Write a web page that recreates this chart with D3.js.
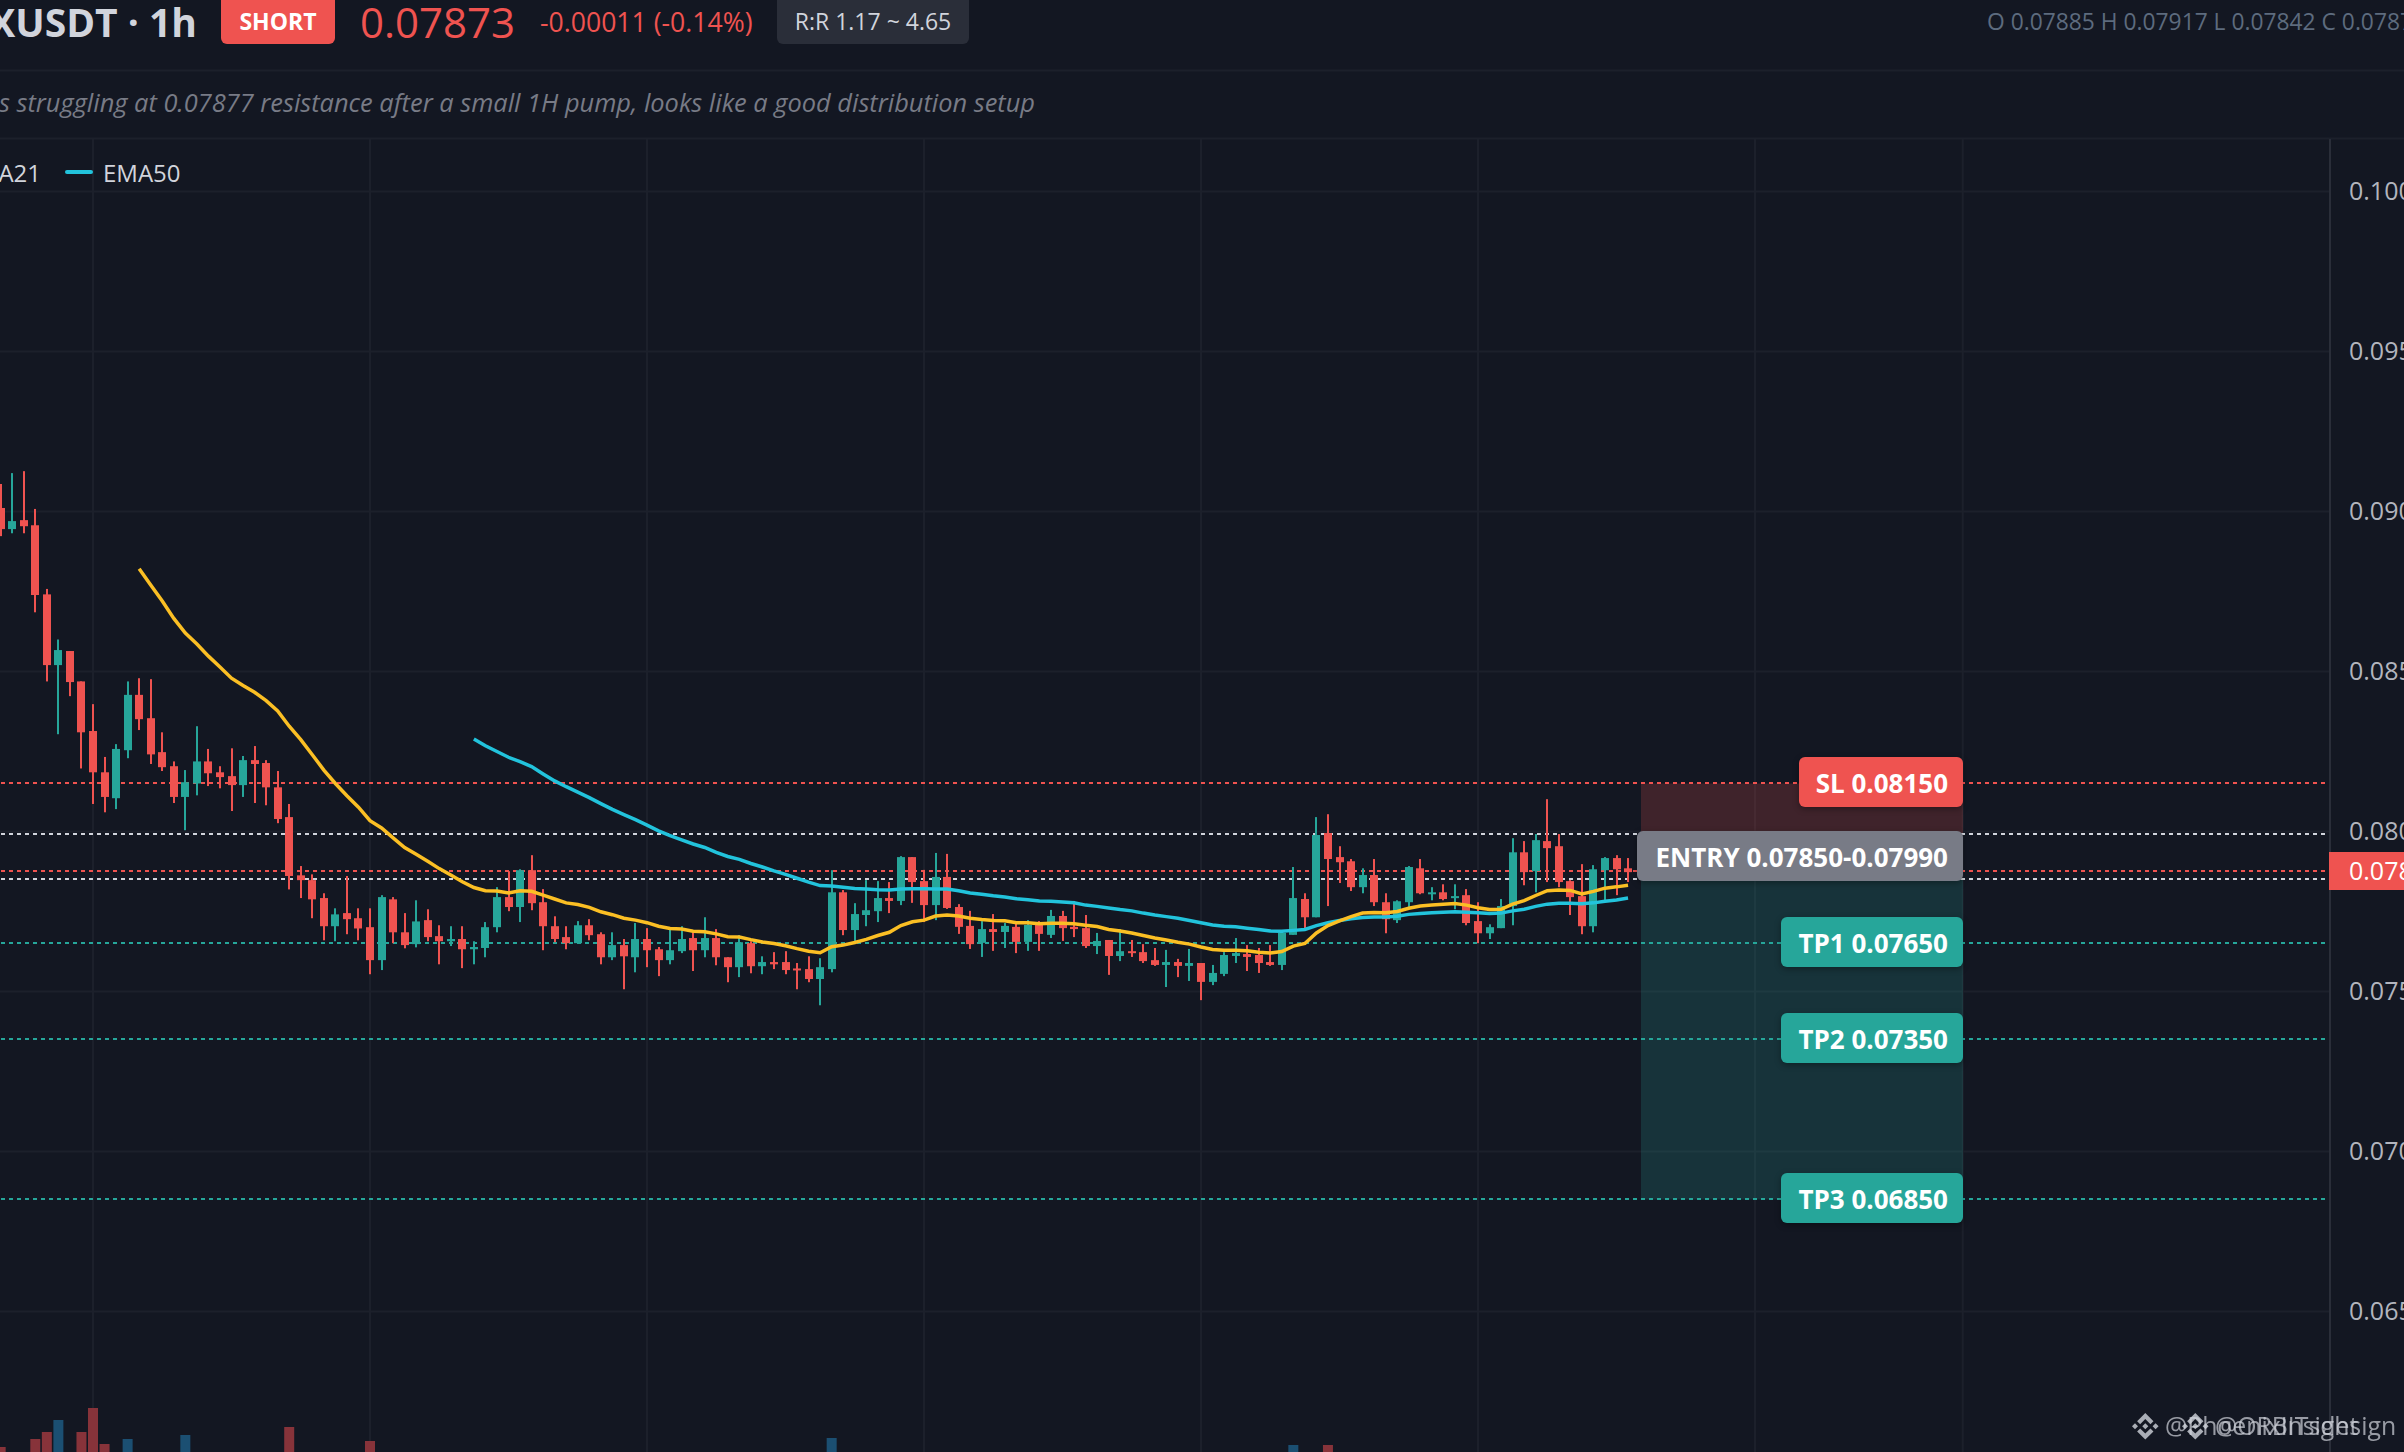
<!DOCTYPE html>
<html>
<head>
<meta charset="utf-8">
<script src="https://cdn.jsdelivr.net/npm/d3@7"></script>
<style>
  html, body { margin: 0; padding: 0; background: #131722; overflow: hidden; }
  text { font-family: "Open Sans", sans-serif; }
</style>
</head>
<body>
<div id="chart-area"></div>
<script>
// prices are in units of 0.00001, bars are hourly
const opens = [
  9011,8945,8973,8957,8741,8520,8564,8469,8314,8185,
  8104,8254,8427,8354,8248,8204,8108,8150,8219,8185,
  8173,8145,8223,8214,8138,8045,7863,7848,7792,7704,
  7745,7729,7701,7598,7788,7685,7648,7723,7673,7657,
  7664,7632,7636,7701,7795,7764,7879,7779,7704,7670,
  7651,7707,7679,7607,7645,7607,7664,7632,7598,7626,
  7667,7629,7667,7607,7576,7651,7579,7592,7592,7572,
  7570,7539,7570,7810,7692,7739,7751,7792,7783,7920,
  7845,7770,7858,7764,7705,7652,7695,7686,7702,7655,
  7708,7677,7736,7702,7698,7642,7661,7611,7626,7623,
  7598,7583,7592,7580,7589,7530,7555,7611,7617,7614,
  7592,7583,7677,7789,7732,7995,7920,7907,7826,7864,
  7779,7723,7779,7885,7807,7810,7792,7801,7720,7682,
  7698,7767,7935,7876,7970,7954,7845,7798,7704,7879,
  7917,7885
]
const highs = [
  9086,9120,9126,9008,8758,8600,8564,8469,8398,8233,
  8273,8469,8479,8476,8310,8219,8192,8329,8258,8204,
  8260,8236,8267,8223,8189,8086,7892,7866,7807,7760,
  7861,7760,7760,7801,7795,7745,7785,7757,7707,7704,
  7704,7657,7717,7826,7876,7882,7926,7820,7735,7704,
  7720,7726,7685,7685,7664,7714,7698,7639,7695,7704,
  7685,7732,7695,7607,7676,7657,7610,7623,7626,7589,
  7610,7604,7879,7817,7776,7848,7845,7842,7923,7920,
  7880,7933,7930,7773,7752,7720,7742,7714,7711,7723,
  7720,7755,7752,7783,7739,7683,7661,7695,7661,7648,
  7636,7630,7602,7633,7589,7583,7623,7667,7645,7636,
  7645,7686,7889,7807,8045,8054,7954,7914,7885,7914,
  7807,7785,7892,7914,7826,7835,7835,7820,7779,7710,
  7789,7979,7970,7992,8101,7992,7848,7898,7895,7920,
  7926,7917
]
const lows = [
  8923,8932,8932,8685,8469,8304,8423,8197,8086,8060,
  8070,8229,8317,8211,8189,8089,8004,8113,8142,8135,
  8064,8108,8089,8082,8026,7819,7792,7729,7660,7657,
  7679,7660,7554,7567,7651,7635,7638,7657,7585,7642,
  7573,7585,7607,7685,7751,7717,7754,7629,7654,7632,
  7651,7660,7585,7598,7507,7560,7576,7548,7585,7620,
  7564,7607,7582,7529,7545,7557,7554,7570,7554,7507,
  7529,7457,7560,7676,7654,7704,7717,7745,7770,7777,
  7717,7723,7758,7680,7633,7608,7627,7636,7620,7627,
  7627,7667,7658,7670,7636,7617,7552,7595,7608,7589,
  7580,7514,7545,7533,7473,7520,7548,7589,7564,7558,
  7580,7567,7677,7695,7732,7767,7839,7814,7807,7767,
  7682,7714,7764,7804,7785,7785,7757,7707,7651,7664,
  7698,7707,7832,7810,7842,7826,7739,7679,7685,7785,
  7801,7842
]
const closes = [
  8945,8970,8954,8739,8520,8567,8467,8310,8185,8108,
  8258,8427,8351,8241,8201,8108,8154,8219,8182,8170,
  8145,8223,8211,8138,8039,7861,7848,7788,7704,7741,
  7726,7697,7598,7795,7685,7645,7719,7670,7657,7664,
  7632,7639,7701,7795,7764,7879,7776,7704,7664,7651,
  7707,7676,7607,7645,7610,7664,7629,7598,7629,7664,
  7629,7667,7607,7576,7654,7579,7592,7585,7567,7566,
  7539,7576,7810,7692,7742,7754,7792,7783,7920,7842,
  7770,7858,7761,7702,7648,7695,7686,7705,7655,7708,
  7680,7736,7698,7695,7642,7658,7611,7626,7620,7595,
  7583,7592,7580,7589,7530,7558,7614,7620,7608,7589,
  7583,7683,7792,7732,7989,7914,7904,7826,7864,7779,
  7726,7782,7889,7807,7810,7789,7798,7714,7682,7701,
  7767,7935,7873,7973,7948,7842,7795,7704,7882,7917,
  7882,7873
]

const ema21Start = 12
const ema21 = [
  8821,8770,8720,8666,8620,8586,8548,8514,8479,8456,8435,8409,8377,8329,8287,8240,
  8192,8150,8112,8076,8034,8011,7980,7950,7929,7907,7884,7864,7843,7825,7815,7814,
  7808,7815,7813,7801,7789,7777,7772,7763,7749,7740,7729,7723,7715,7704,7697,7695,
  7688,7687,7680,7671,7670,7662,7655,7650,7643,7634,7626,7621,7640,7645,7653,7663,
  7675,7685,7706,7718,7723,7736,7739,7736,7729,7725,7722,7721,7715,7715,7712,7713,
  7713,7712,7707,7703,7694,7689,7683,7675,7667,7661,7654,7648,7639,7631,7629,7629,
  7627,7623,7620,7625,7642,7650,7683,7706,7721,7734,7745,7747,7746,7750,7760,7767,
  7770,7773,7775,7770,7762,7756,7757,7773,7784,7800,7815,7817,7816,7805,7813,7823,
  7827,7832
]
const ema50Start = 41
const ema50 = [
  8289,8268,8250,8232,8218,8203,8180,8158,8140,8123,8106,8087,8069,8053,8037,8020,
  8002,7987,7974,7961,7950,7935,7922,7913,7900,7889,7877,7866,7854,7842,7831,7830,
  7826,7822,7820,7818,7817,7820,7821,7821,7820,7820,7815,7808,7804,7799,7795,7790,
  7787,7783,7782,7780,7777,7770,7766,7761,7756,7752,7745,7739,7734,7729,7722,7715,
  7708,7704,7702,7698,7694,7689,7688,7691,7694,7706,7715,7722,7727,7731,7733,7733,
  7735,7741,7744,7746,7748,7749,7748,7746,7744,7745,7752,7757,7766,7773,7776,7776,
  7774,7777,7782,7786,7792
]

// only the bars tall enough to stick into the picture
const volumeBars = [0,3,4,5,7,8,9,11,16,25,32,72,112,115]
const volumes = [5,13,20,32,20,44,8,13,17,25,11,14,7,7]

const priceTicks = [10000,9500,9000,8500,8000,7500,7000,6500]
const gridBars = [8,32,56,80,104,128,152,170]

const lastPrice = 7873
const levelNames = ["SL 0.08150","TP1 0.07650","TP2 0.07350","TP3 0.06850"]
const levelPrices = [8150,7650,7350,6850]
const entryName = "ENTRY 0.07850-0.07990"
const entryPrices = [7990,7850]

const WIDTH = 2404
const HEIGHT = 1452
const PLOT_TOP = 139
const AXIS_X = 2330
const RED = "#ef5350"
const GREEN = "#26a69a"
const GRID = "#1c202b"

const svg = d3.select("#chart-area").append("svg")
  .attr("width", WIDTH)
  .attr("height", HEIGHT)
  .style("display", "block")

const x = d3.scaleLinear().domain([8, 32]).range([93, 370])
const y = d3.scaleLinear().domain([10000, 6500]).range([191.5, 1311.5])
const vol = d3.scaleLinear().domain([0, 44]).range([HEIGHT, 1408])

// header rules
svg.selectAll(".rule")
  .data([70.5, 138.5])
  .enter().append("line")
  .attr("x1", 0).attr("x2", WIDTH)
  .attr("y1", d => d).attr("y2", d => d)
  .attr("stroke", GRID).attr("stroke-width", 2)

// grid
svg.append("g").selectAll("line")
  .data(priceTicks)
  .enter().append("line")
  .attr("x1", 0).attr("x2", AXIS_X)
  .attr("y1", d => y(d)).attr("y2", d => y(d))
  .attr("stroke", GRID).attr("stroke-width", 2)

svg.append("g").selectAll("line")
  .data(gridBars)
  .enter().append("line")
  .attr("x1", d => x(d)).attr("x2", d => x(d))
  .attr("y1", PLOT_TOP).attr("y2", HEIGHT)
  .attr("stroke", GRID).attr("stroke-width", 2)

svg.append("line")
  .attr("x1", AXIS_X).attr("x2", AXIS_X)
  .attr("y1", PLOT_TOP).attr("y2", HEIGHT)
  .attr("stroke", "#2a2e39").attr("stroke-width", 2)

// price axis
const yAxis = d3.axisRight(y)
  .tickValues(priceTicks)
  .tickSize(0)
  .tickPadding(19)
  .tickFormat(d => (d / 1e5).toFixed(3))

const axisG = svg.append("g")
  .attr("transform", `translate(${AXIS_X}, 0)`)
  .call(yAxis)
axisG.select(".domain").remove()
axisG.selectAll("text")
  .attr("fill", "#b2b5be")
  .style("font-size", "25px")

// risk and reward zones
const zoneLeft = 1641
const zoneRight = 1963
svg.append("rect")
  .attr("x", zoneLeft).attr("width", zoneRight - zoneLeft)
  .attr("y", y(levelPrices[0])).attr("height", y(entryPrices[0]) - y(levelPrices[0]))
  .attr("fill", RED).attr("opacity", 0.2)
svg.append("rect")
  .attr("x", zoneLeft).attr("width", zoneRight - zoneLeft)
  .attr("y", y(entryPrices[1])).attr("height", y(levelPrices[3]) - y(entryPrices[1]))
  .attr("fill", GREEN).attr("opacity", 0.2)

// level lines
function levelLine(price, color) {
  const ly = Math.floor(y(price) - 0.2)
  svg.append("line")
    .attr("x1", 1).attr("x2", 2326)
    .attr("y1", ly).attr("y2", ly)
    .attr("stroke", color).attr("stroke-width", 2)
    .attr("stroke-dasharray", "4,4")
}
levelPrices.forEach(p => levelLine(p, p > lastPrice ? RED : GREEN))
entryPrices.forEach(p => levelLine(p, "#d1d4dc"))
levelLine(lastPrice, RED)

// volume
svg.append("g").selectAll("rect")
  .data(volumes)
  .enter().append("rect")
  .attr("x", (d, i) => x(volumeBars[i]) - 5)
  .attr("width", 10)
  .attr("y", d => vol(d))
  .attr("height", d => HEIGHT - vol(d))
  .attr("fill", (d, i) => closes[volumeBars[i]] >= opens[volumeBars[i]] ? "#1b4f72" : "#87333a")

// candles
const candles = svg.append("g").selectAll("g")
  .data(opens)
  .enter().append("g")
  .attr("fill", (d, i) => closes[i] >= d ? GREEN : RED)

candles.append("rect")
  .attr("x", (d, i) => Math.round(x(i)) - 1)
  .attr("width", 2)
  .attr("y", (d, i) => y(highs[i]))
  .attr("height", (d, i) => y(lows[i]) - y(highs[i]))

candles.append("rect")
  .attr("x", (d, i) => Math.round(x(i)) - 4)
  .attr("width", 8)
  .attr("y", (d, i) => y(Math.max(d, closes[i])))
  .attr("height", (d, i) => Math.max(2, Math.abs(y(d) - y(closes[i]))))

// moving averages
const emaLine = start => d3.line()
  .x((d, i) => x(i + start))
  .y(d => y(d))

svg.append("path")
  .attr("d", emaLine(ema50Start)(ema50))
  .attr("fill", "none").attr("stroke", "#22c3dc").attr("stroke-width", 3.5)
svg.append("path")
  .attr("d", emaLine(ema21Start)(ema21))
  .attr("fill", "none").attr("stroke", "#fbbf24").attr("stroke-width", 3.5)

// level labels
function levelLabel(left, top, text, fill) {
  svg.append("rect")
    .attr("x", left).attr("y", top)
    .attr("width", zoneRight - left).attr("height", 50)
    .attr("rx", 6)
    .attr("fill", fill)
    .style("filter", "drop-shadow(0 2px 3px rgba(0,0,0,.35))")
  svg.append("text")
    .attr("x", zoneRight - 15).attr("y", top + 36)
    .attr("text-anchor", "end")
    .attr("fill", "#fff")
    .attr("font-size", 26)
    .attr("font-weight", 700)
    .text(text)
}
const labelLeft = [1799, 1781, 1781, 1781]
levelNames.forEach((name, i) => {
  levelLabel(labelLeft[i], y(levelPrices[i]) - 26.5, name, levelPrices[i] > lastPrice ? RED : GREEN)
})
levelLabel(1637, 831, entryName, "#787b86")

// current price tag
svg.append("rect")
  .attr("x", AXIS_X - 1).attr("y", 852)
  .attr("width", WIDTH - AXIS_X + 1).attr("height", 38)
  .attr("fill", RED)
svg.append("text")
  .attr("x", AXIS_X + 19).attr("y", 880)
  .attr("fill", "#fff").attr("font-size", 25)
  .text((lastPrice / 1e5).toFixed(5))

// header
function headerText(px, py, anchor, size, weight, color, text, style) {
  return svg.append("text")
    .attr("x", px).attr("y", py)
    .attr("text-anchor", anchor)
    .attr("font-size", size)
    .attr("font-weight", weight)
    .attr("font-style", style || "normal")
    .attr("fill", color)
    .text(text)
}
headerText(197, 37, "end", 39, 700, "#d1d4dc", "XUSDT · 1h")
svg.append("rect").attr("x", 221).attr("y", -8).attr("width", 114).attr("height", 52).attr("rx", 6).attr("fill", RED)
headerText(278, 30, "middle", 23, 700, "#fff", "SHORT")
headerText(360, 38, "start", 42, 500, RED, "0.07873")
headerText(540, 32, "start", 26.6, 500, RED, "-0.00011 (-0.14%)")
svg.append("rect").attr("x", 777).attr("y", -8).attr("width", 192).attr("height", 52).attr("rx", 6).attr("fill", "#2a2e39")
headerText(873, 30, "middle", 23, 500, "#d1d4dc", "R:R 1.17 ~ 4.65")
headerText(1987, 30, "start", 22.8, 400, "#5d6b7e", "O 0.07885 H 0.07917 L 0.07842 C 0.07873")
headerText(1035, 112, "end", 25.4, 400, "#787b86",
  "s struggling at 0.07877 resistance after a small 1H pump, looks like a good distribution setup", "italic")

// legend, the EMA21 entry runs off the left edge
headerText(41, 182, "end", 24, 500, "#d1d4dc", "A21")
svg.append("rect").attr("x", 65).attr("y", 170).attr("width", 28).attr("height", 4).attr("rx", 2).attr("fill", "#22c3dc")
headerText(103, 182, "start", 24, 500, "#d1d4dc", "EMA50")

// watermark, two of them stacked on each other
const LOGO = "M38.73 53.2l24.59-24.58 24.6 24.6 14.3-14.31L63.32 0 24.43 38.9l14.3 14.3zM0 63.31l14.3-14.31 14.31 14.31-14.31 14.3zM38.73 73.41l24.59 24.59 24.6-24.6 14.31 14.29-38.9 38.91-38.91-38.88-.02-.02zM98.03 63.31l14.3-14.31 14.31 14.3-14.31 14.32zM77.83 63.3L63.32 48.78 52.59 59.51l-1.24 1.23-2.54 2.54 14.51 14.52 14.51-14.5z"
function watermark(left, text) {
  svg.append("path")
    .attr("d", LOGO)
    .attr("transform", `translate(${left}, 1413) scale(0.21)`)
    .attr("fill", "#d1d4dc").attr("opacity", 0.8)
  svg.append("text")
    .attr("x", left + 33).attr("y", 1435)
    .attr("font-size", 24.8)
    .attr("fill", "#d1d4dc").attr("opacity", 0.7)
    .text(text)
}
watermark(2132, "@PhoenixInsight")
watermark(2182, "@ORBITsdesign")
</script>
</body>
</html>
